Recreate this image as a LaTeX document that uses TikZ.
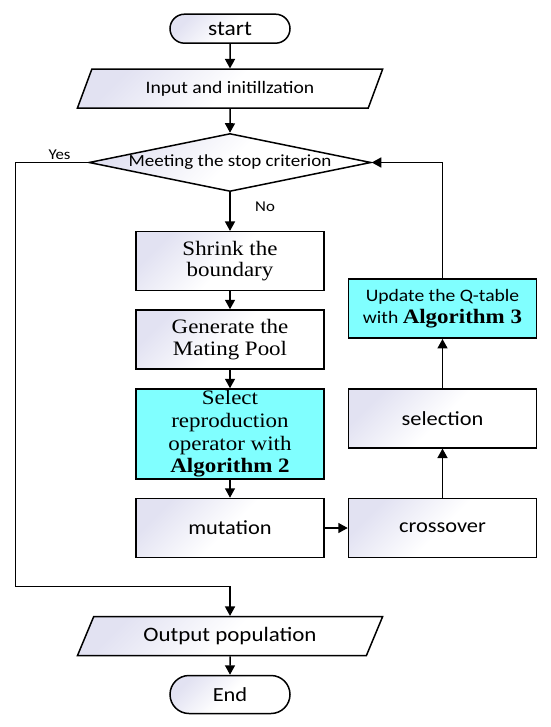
\documentclass[tikz,border=0pt]{standalone}
\usepackage{fontspec}
\setmainfont{Liberation Serif}[FakeStretch=1.12]
\newfontfamily\calib{Carlito}[FakeStretch=1.12]
\usetikzlibrary{shapes.geometric,shapes.misc,arrows.meta}
\definecolor{lav}{RGB}{226,226,242}
\definecolor{cyanbox}{RGB}{128,255,255}
\tikzset{
  base/.style={draw=black, line width=1.5pt, top color=lav, bottom color=white, middle color=white, shading angle=45},
  proc/.style={base, rectangle, minimum width=188pt, minimum height=59pt, inner sep=0pt, align=center},
  algo/.style={draw=black, line width=1.5pt, fill=cyanbox, rectangle, minimum width=188pt, inner sep=0pt, align=center},
  term/.style={base, rounded rectangle, minimum width=120pt, inner sep=0pt},
  io/.style={base, trapezium, trapezium left angle=59.5, trapezium right angle=120.5, trapezium stretches=true, minimum width=306pt, minimum height=39pt, inner sep=0pt},
  dec/.style={base, diamond, minimum width=282pt, minimum height=58pt, inner sep=0pt},
  arr/.style={line width=1.5pt, -{Triangle[length=9.5pt,width=10pt]}},
  cal/.style={font=\calib\fontsize{#1}{#1}\selectfont},
  tms/.style={font=\fontsize{20.5}{21.7}\selectfont},
}
\begin{document}
\begin{tikzpicture}[x=1pt,y=-1pt]
\useasboundingbox (0,0) rectangle (550,727);
\node[term, minimum height=29pt, cal=21] (start) at (230,28.7) {start};
\node[io, cal=17.5] (in) at (230,88.7) {Input and initillzation};
\node[dec, label={[cal=17]center:Meeting the stop criterion}] (d) at (230,162.5) {};
\node[proc, tms] (shr) at (230,261.2) {Shrink the\\boundary};
\node[proc, tms] (gen) at (230,339.5) {Generate the\\Mating Pool};
\node[algo, minimum height=90pt, font=\fontsize{20.5}{22.7}\selectfont] (sel) at (230,434) {Select\\reproduction\\operator with\\\textbf{Algorithm 2}};
\node[proc, cal=20] (mut) at (230,528) {mutation};
\node[proc, cal=20] (cro) at (442.5,528) {crossover};
\node[proc, cal=20] (slc) at (442.5,418.3) {selection};
\node[algo, minimum height=59pt, font=\fontsize{20.5}{21.7}\selectfont] (upd) at (442.5,308.7) {{\calib\fontsize{17.5}{21.7}\selectfont Update the Q-table}\\{\calib\fontsize{17.5}{21.7}\selectfont with }\textbf{Algorithm 3}};
\node[io, cal=20.5] (out) at (230,636.2) {Output population};
\node[term, minimum height=38pt, cal=20] (end) at (230,694.5) {End};
\node[cal=15, inner sep=0pt] (yes) at (59.5,155) {Yes};
\node[cal=15, inner sep=0pt] (no) at (265,207) {No};
\coordinate (yb) at (15.7,586.7);
\draw[arr] (start) -- (in);
\draw[arr] (in) -- (d.north);
\draw[arr] (d.south) -- (shr);
\draw[arr] (shr) -- (gen);
\draw[arr] (gen) -- (sel);
\draw[arr] (sel) -- (mut);
\draw[arr] (mut) -- (cro);
\draw[arr] (cro) -- (slc);
\draw[arr] (slc) -- (upd);
\draw[arr] (upd.north) |- (d.east);
\draw[arr] (d.west) -| (yb) -| (out.north);
\draw[arr] (out) -- (end);
\end{tikzpicture}
\end{document}
